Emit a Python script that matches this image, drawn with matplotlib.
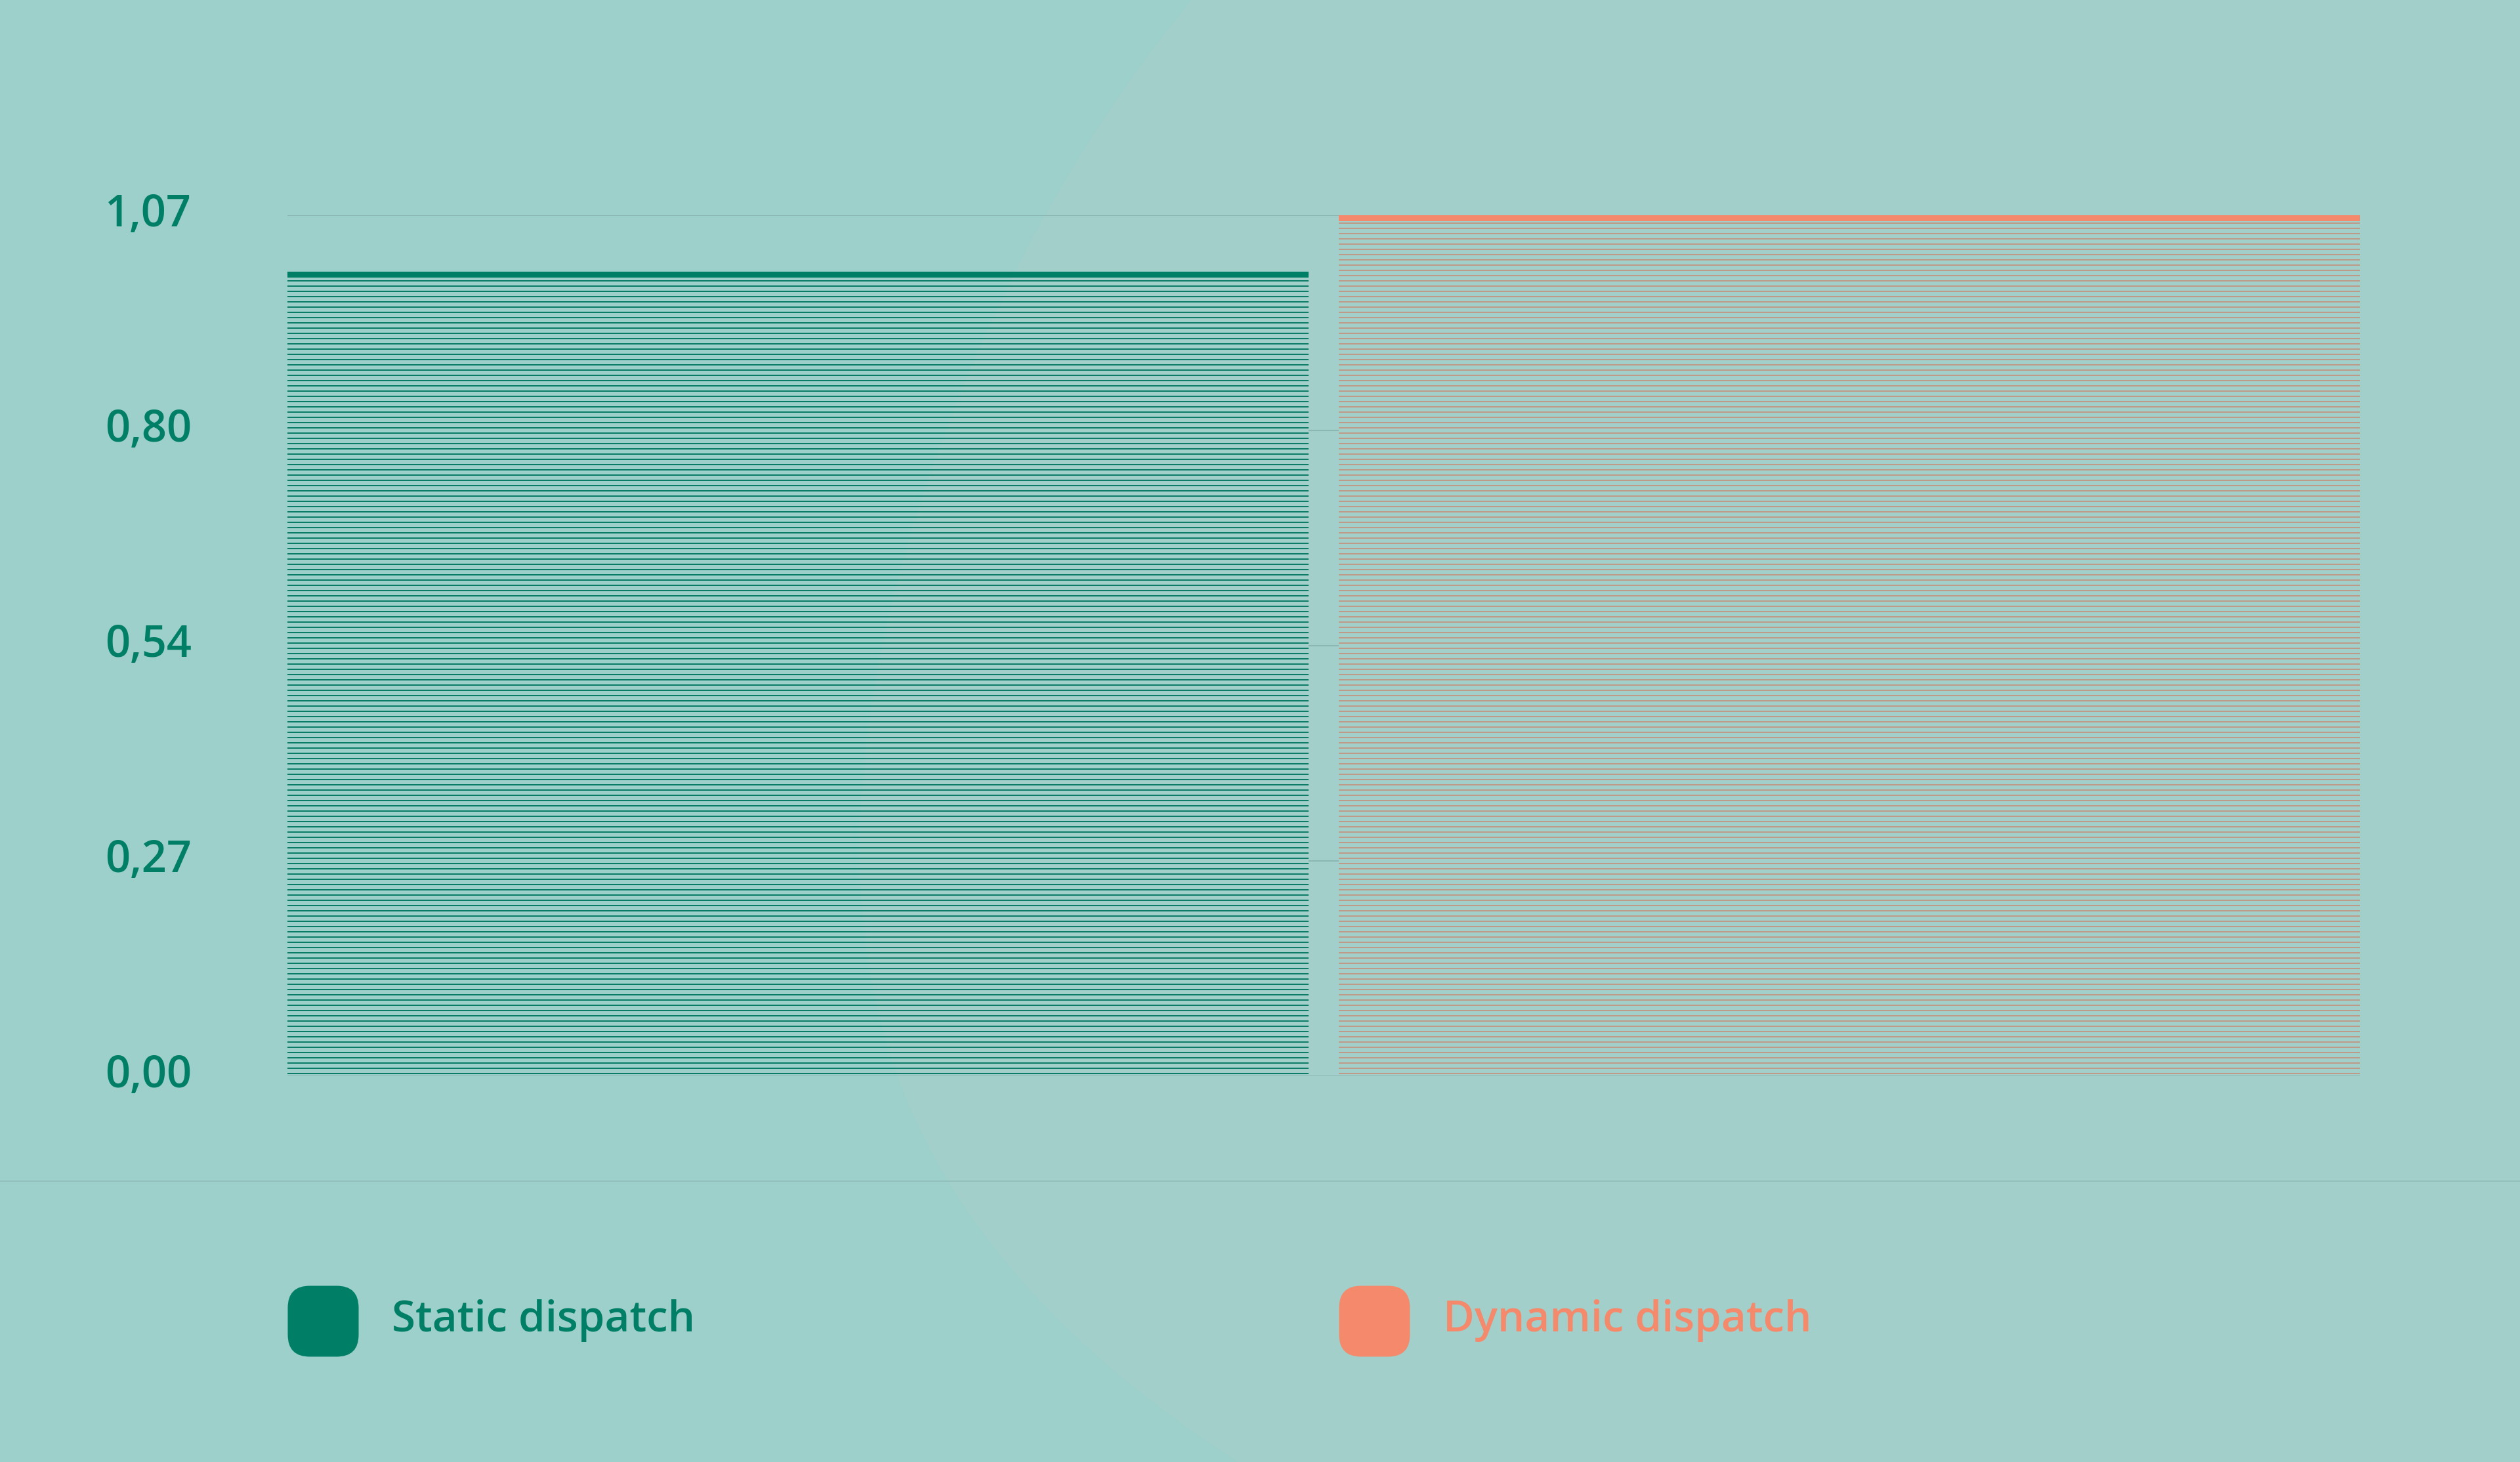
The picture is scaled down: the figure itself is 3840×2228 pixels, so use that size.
import matplotlib
matplotlib.use("Agg")
import matplotlib.pyplot as plt
import matplotlib.transforms as mtransforms
from matplotlib.patches import Polygon, BoxStyle
from matplotlib.lines import Line2D
import numpy as np

# ---- data ----
categories = ["Static dispatch", "Dynamic dispatch"]
values = [1.00, 1.07]
tick_labels = ["0,00", "0,27", "0,54", "0,80", "1,07"]

# ---- style ----
BG = "#9DCFCB"
BG2 = "#A2CFCA"
GREEN = "#007F66"
ORANGE = "#F4896B"
HATCH_COLORS = ["#0A7B67", "#C09A88"]
SOLID_COLORS = [GREEN, ORANGE]
GRID = "#8BB6B2"
SEP = "#92C0BC"
FONT_WEIGHT = "semibold"

DPI = 96
W, H = 3840, 2228
plt.rcParams["font.family"] = ["Open Sans", "DejaVu Sans"]
plt.rcParams["hatch.linewidth"] = 1.5

fig = plt.figure(figsize=(W / DPI, H / DPI), dpi=DPI, facecolor=BG)

# decorative background shape (lighter region on the right, curved left edge)
_cy = np.array([0, 327, 500, 902, 1074, 1350, 1640, 1800, 1850, 2228], dtype=float)
_cx = np.array([1815, 1598, 1500, 1363, 1330, 1310, 1367, 1445, 1477, 1886], dtype=float)
_coef = np.polyfit(_cy, _cx, 4)
_ys = np.linspace(0, H, 200)
_xs = np.polyval(_coef, _ys)
_verts = [(xx / W, 1 - yy / H) for xx, yy in zip(_xs, _ys)] + [(1.0, 0.0), (1.0, 1.0)]
fig.patches.append(Polygon(_verts, closed=True, transform=fig.transFigure,
                           facecolor=BG2, edgecolor="none", zorder=0))

# separator line
fig.add_artist(Line2D([0, 1], [1 - 1800 / H, 1 - 1800 / H], transform=fig.transFigure,
                      color=SEP, linewidth=1.5, zorder=1))

ax_left, ax_right = 438 / W, 3596 / W
ax_bottom, ax_top = 1 - 1640 / H, 1 - 328 / H
ax = fig.add_axes([ax_left, ax_bottom, ax_right - ax_left, ax_top - ax_bottom])
ax.set_facecolor("none")
ax.set_zorder(3)

x = np.arange(len(categories))
bar_w = 1556 / 1602
ymax = max(values)
ticks = np.linspace(0, ymax, len(tick_labels))

x0, x1 = -bar_w / 2, x[-1] + bar_w / 2
ax.set_xlim(x0, x1)
ax.set_ylim(0, ymax)

# gridlines: only visible outside the bars (bars hide them)
for t in ticks:
    covered = sorted((xi - bar_w / 2, xi + bar_w / 2)
                     for xi, v in zip(x, values) if t > 0 and v >= t)
    start = x0
    segs = []
    for a, b in covered:
        if a > start:
            segs.append((start, a))
        start = max(start, b)
    if start < x1:
        segs.append((start, x1))
    for a, b in segs:
        ax.hlines(t, a, b, color=GRID, linewidth=1.5, zorder=1)

ax.bar(x, values, width=bar_w, facecolor="none", edgecolor=HATCH_COLORS,
       hatch="--", linewidth=0, zorder=2)

# thick top stroke (9 px)
ax_h_px = (ax_top - ax_bottom) * H
thick = 9 * ymax / ax_h_px
ax.bar(x, [thick] * len(values), bottom=np.array(values) - thick, width=bar_w,
       color=SOLID_COLORS, linewidth=0, zorder=3)

for s in ax.spines.values():
    s.set_visible(False)
ax.set_xticks([])
ax.set_yticks([])

# y tick labels
ytrans = mtransforms.blended_transform_factory(fig.transFigure, ax.transData) + \
    mtransforms.ScaledTranslation(0, -17 / DPI, fig.dpi_scale_trans)
for t, lab in zip(ticks, tick_labels):
    ax.text(160 / W, t, lab, transform=ytrans, ha="left", va="baseline",
            fontsize=50, color=GREEN, fontweight=FONT_WEIGHT, clip_on=False)

# legend
box_path = BoxStyle.Round(pad=0, rounding_size=0.31)(-0.5, -0.5, 1, 1, 1)
legend_y = 1 - 2013 / H
text_y = 1 - 2029 / H
for xi, cat, col in zip(x, categories, SOLID_COLORS):
    left = xi - bar_w / 2
    mtrans = mtransforms.blended_transform_factory(ax.transData, fig.transFigure) + \
        mtransforms.ScaledTranslation(54 / DPI, 0, fig.dpi_scale_trans)
    ax.plot([left], [legend_y], marker=box_path, markersize=108 * 72 / DPI,
            color=col, markeredgewidth=0, linestyle="none", transform=mtrans, clip_on=False)
    ttrans = mtransforms.blended_transform_factory(ax.transData, fig.transFigure) + \
        mtransforms.ScaledTranslation(159 / DPI, 0, fig.dpi_scale_trans)
    ax.text(left, text_y, cat, transform=ttrans, ha="left", va="baseline",
            fontsize=49, color=col, fontweight=FONT_WEIGHT, clip_on=False)

fig.savefig("out.png", dpi=DPI, facecolor=BG)
